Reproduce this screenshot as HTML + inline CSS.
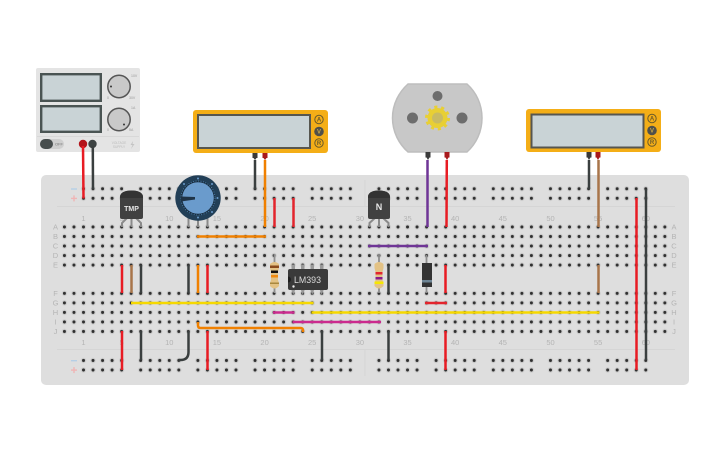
<!DOCTYPE html>
<html><head><meta charset="utf-8"><style>
html,body{margin:0;padding:0;background:#fff}
svg{display:block}
text{font-family:"Liberation Sans",sans-serif}
.n{font-size:7.5px;fill:#b4b4b4;text-anchor:middle}
.w{fill:none;stroke-width:2.5;stroke-linecap:butt;stroke-linejoin:round}
.lead{fill:none;stroke:#8a8a8a;stroke-width:2}
</style></head><body>
<svg width="725" height="453" viewBox="0 0 725 453" xmlns="http://www.w3.org/2000/svg">
<defs>
<pattern id="h" patternUnits="userSpaceOnUse" x="78.735" y="222.2" width="9.53" height="9.53">
<circle cx="4.765" cy="4.765" r="2.7" fill="#cdcdcd"/><circle cx="4.765" cy="4.765" r="1.5" fill="#2f2f2f"/>
</pattern>
<pattern id="h2" patternUnits="userSpaceOnUse" x="78.735" y="288.6" width="9.53" height="9.53">
<circle cx="4.765" cy="4.765" r="2.7" fill="#cdcdcd"/><circle cx="4.765" cy="4.765" r="1.5" fill="#2f2f2f"/>
</pattern>
<pattern id="h3" patternUnits="userSpaceOnUse" x="78.735" y="184" width="9.53" height="9.53">
<circle cx="4.765" cy="4.765" r="2.7" fill="#cdcdcd"/><circle cx="4.765" cy="4.765" r="1.5" fill="#2f2f2f"/>
</pattern>
<pattern id="h4" patternUnits="userSpaceOnUse" x="78.735" y="355.7" width="9.53" height="9.53">
<circle cx="4.765" cy="4.765" r="2.7" fill="#cdcdcd"/><circle cx="4.765" cy="4.765" r="1.5" fill="#2f2f2f"/>
</pattern>
</defs>

<!-- board -->
<rect x="41" y="175" width="648" height="210" rx="5" fill="#dedede"/>
<path d="M57 206.5H675M57 349.5H675" stroke="#d2d2d2" stroke-width="0.8"/>
<path d="M365 180V206M365 350V376" stroke="#d2d2d2" stroke-width="0.8"/>

<!-- holes -->
<rect x="59.9" y="222.2" width="610" height="47.65" fill="url(#h)"/>
<rect x="59.9" y="288.6" width="610" height="47.65" fill="url(#h2)"/>
<g fill="url(#h3)">
<rect x="78.735" y="184" width="47.65" height="19.06"/>
<rect x="135.9" y="184" width="47.65" height="19.06"/>
<rect x="193.1" y="184" width="47.65" height="19.06"/>
<rect x="250.3" y="184" width="47.65" height="19.06"/>
<rect x="307.5" y="184" width="47.65" height="19.06"/>
<rect x="374.2" y="184" width="47.65" height="19.06"/>
<rect x="431.4" y="184" width="47.65" height="19.06"/>
<rect x="488.6" y="184" width="47.65" height="19.06"/>
<rect x="545.7" y="184" width="47.65" height="19.06"/>
<rect x="602.9" y="184" width="47.65" height="19.06"/>
</g>
<g fill="url(#h4)">
<rect x="78.735" y="355.7" width="47.65" height="19.06"/>
<rect x="135.9" y="355.7" width="47.65" height="19.06"/>
<rect x="193.1" y="355.7" width="47.65" height="19.06"/>
<rect x="250.3" y="355.7" width="47.65" height="19.06"/>
<rect x="307.5" y="355.7" width="47.65" height="19.06"/>
<rect x="374.2" y="355.7" width="47.65" height="19.06"/>
<rect x="431.4" y="355.7" width="47.65" height="19.06"/>
<rect x="488.6" y="355.7" width="47.65" height="19.06"/>
<rect x="545.7" y="355.7" width="47.65" height="19.06"/>
<rect x="602.9" y="355.7" width="47.65" height="19.06"/>
</g>

<!-- rail signs -->
<g fill="#b5cfe6"><rect x="71" y="188.3" width="6" height="1.4"/><rect x="71" y="360" width="6" height="1.4"/></g>
<g fill="#f0b5b5"><rect x="71" y="197.7" width="6" height="1.4"/><rect x="73.3" y="195.4" width="1.4" height="6"/><rect x="71" y="369.4" width="6" height="1.4"/><rect x="73.3" y="367.1" width="1.4" height="6"/></g>

<!-- column numbers -->
<g class="n">
<text x="83.5" y="221">1</text><text x="121.6" y="221">5</text><text x="169.3" y="221">10</text><text x="216.9" y="221">15</text><text x="264.6" y="221">20</text><text x="312.2" y="221">25</text><text x="359.9" y="221">30</text><text x="407.5" y="221">35</text><text x="455.2" y="221">40</text><text x="502.8" y="221">45</text><text x="550.5" y="221">50</text><text x="598.1" y="221">55</text><text x="645.8" y="221">60</text>
<text x="83.5" y="345">1</text><text x="121.6" y="345">5</text><text x="169.3" y="345">10</text><text x="216.9" y="345">15</text><text x="264.6" y="345">20</text><text x="312.2" y="345">25</text><text x="359.9" y="345">30</text><text x="407.5" y="345">35</text><text x="455.2" y="345">40</text><text x="502.8" y="345">45</text><text x="550.5" y="345">50</text><text x="598.1" y="345">55</text><text x="645.8" y="345">60</text>
<text x="55.5" y="229.5">A</text><text x="55.5" y="239">B</text><text x="55.5" y="248.5">C</text><text x="55.5" y="258">D</text><text x="55.5" y="267.5">E</text>
<text x="55.5" y="296">F</text><text x="55.5" y="305.5">G</text><text x="55.5" y="315">H</text><text x="55.5" y="324.5">I</text><text x="55.5" y="334">J</text>
<text x="674" y="229.5">A</text><text x="674" y="239">B</text><text x="674" y="248.5">C</text><text x="674" y="258">D</text><text x="674" y="267.5">E</text>
<text x="674" y="296">F</text><text x="674" y="305.5">G</text><text x="674" y="315">H</text><text x="674" y="324.5">I</text><text x="674" y="334">J</text>
</g>

<!-- power supply -->
<rect x="36" y="68" width="104" height="84" rx="2" fill="#e4e4e4"/>
<path d="M37 136.5H139" stroke="#d4d4d4" stroke-width="0.8"/>
<rect x="41.2" y="74.2" width="59.6" height="26.6" fill="#c9d3d6" stroke="#4a5453" stroke-width="2.4"/>
<rect x="41.2" y="106.2" width="59.6" height="25.6" fill="#c9d3d6" stroke="#4a5453" stroke-width="2.4"/>
<circle cx="119" cy="86.5" r="11.2" fill="#c9c9c9" stroke="#555" stroke-width="1.5"/>
<circle cx="111" cy="86.5" r="1" fill="#333"/>
<circle cx="119" cy="119.5" r="11.2" fill="#c9c9c9" stroke="#555" stroke-width="1.5"/>
<circle cx="124" cy="124.5" r="1" fill="#333"/>
<text x="131" y="77" font-size="3.5" fill="#999">10V</text>
<text x="131" y="109" font-size="3.5" fill="#999">1A</text>
<text x="107" y="99" font-size="3.5" fill="#999">0</text>
<text x="129" y="99" font-size="3.5" fill="#999">30V</text>
<text x="107" y="131" font-size="3.5" fill="#999">0</text>
<text x="129" y="131" font-size="3.5" fill="#999">5A</text>
<rect x="40" y="139" width="24" height="10" rx="5" fill="#cfcfcf"/>
<rect x="40" y="139" width="13" height="10" rx="5" fill="#474d4d"/>
<text x="55" y="145.5" font-size="4" fill="#777">OFF</text>
<text x="119" y="144" font-size="3.2" fill="#bbb" text-anchor="middle">VOLTAGE</text>
<text x="119" y="148" font-size="3.2" fill="#bbb" text-anchor="middle">SUPPLY</text>
<path d="M133 141l-2.5 4h2l-1.5 4 3.5-5h-2z" fill="#c4c4c4"/>
<circle cx="83" cy="144" r="4.2" fill="#b3151b"/>
<circle cx="92.5" cy="144" r="4.2" fill="#3d4343"/>

<!-- multimeter 1 -->
<rect x="193" y="110" width="135" height="43" rx="3" fill="#f4ae17"/>
<rect x="198" y="115" width="112" height="33" fill="#c9d3d6" stroke="#565650" stroke-width="2"/>
<g font-size="6" text-anchor="middle" font-weight="bold">
<circle cx="319" cy="119.5" r="4.2" fill="none" stroke="#6a5a2a" stroke-width="1"/><text x="319" y="121.7" fill="#6a5a2a">A</text>
<circle cx="319" cy="131.5" r="4.8" fill="#50504a"/><text x="319" y="133.7" fill="#c9a84a">V</text>
<circle cx="319" cy="143" r="4.2" fill="none" stroke="#6a5a2a" stroke-width="1"/><text x="319" y="145.2" fill="#6a5a2a">R</text>
</g>

<!-- multimeter 2 -->
<rect x="526" y="109" width="135" height="43" rx="3" fill="#f4ae17"/>
<rect x="531.5" y="114.5" width="112" height="33" fill="#c9d3d6" stroke="#565650" stroke-width="2"/>
<g font-size="6" text-anchor="middle" font-weight="bold">
<circle cx="652" cy="118.5" r="4.2" fill="none" stroke="#6a5a2a" stroke-width="1"/><text x="652" y="120.7" fill="#6a5a2a">A</text>
<circle cx="652" cy="130.5" r="4.8" fill="#50504a"/><text x="652" y="132.7" fill="#c9a84a">V</text>
<circle cx="652" cy="142" r="4.2" fill="none" stroke="#6a5a2a" stroke-width="1"/><text x="652" y="144.2" fill="#6a5a2a">R</text>
</g>

<!-- motor -->
<path d="M408 84H467C476 92 482 104 482 118C482 132 476 144 467 152H408C399 144 392.500 132 392.500 118C392.500 104 399 92 408 84Z" fill="#c8c8c8" stroke="#bdbdbd" stroke-width="1.5"/>
<circle cx="437.500" cy="96" r="5" fill="#6d6d6d"/>
<circle cx="412.500" cy="118" r="5.500" fill="#6d6d6d"/>
<circle cx="462" cy="118" r="5.500" fill="#6d6d6d"/>
<circle cx="437.500" cy="118" r="11" fill="none" stroke="#e8cf34" stroke-width="3" stroke-dasharray="3.100 3.800"/>
<circle cx="437.500" cy="118" r="10" fill="#e8cf34"/>
<circle cx="437.500" cy="118" r="5.500" fill="#c9bb62"/>

<!-- probes -->
<g>
<rect x="252.500" y="153" width="5" height="5" fill="#3a3a3a"/><path d="M253.500 158L255 160L256.500 158Z" fill="#3a3a3a"/>
<rect x="262.500" y="153" width="5" height="5" fill="#a8191c"/><path d="M263.500 158L265 160L266.500 158Z" fill="#a8191c"/>
<rect x="425.500" y="152" width="5" height="5.500" fill="#3a3a3a"/><path d="M426.500 157.500L428 160L429.500 157.500Z" fill="#3a3a3a"/>
<rect x="444.500" y="152" width="5" height="5.500" fill="#a8191c"/><path d="M445.500 157.500L447 160L448.500 157.500Z" fill="#a8191c"/>
<rect x="586.500" y="152" width="5" height="5.500" fill="#3a3a3a"/><path d="M587.500 157.500L589 160L590.500 157.500Z" fill="#3a3a3a"/>
<rect x="595.500" y="152" width="5" height="5.500" fill="#a8191c"/><path d="M596.500 157.500L598 160L599.500 157.500Z" fill="#a8191c"/>
</g>

<!-- wires -->
<g class="w">
<path stroke="#e81c24" d="M83 146L83.500 198.500"/>
<path stroke="#3a3f3f" d="M92.800 146L93 189"/>
<path stroke="#3a3f3f" d="M255 160V189"/>
<path stroke="#f08000" d="M265 160V227"/>
<path stroke="#f08000" d="M197 236.500H266"/>
<path stroke="#e3252d" d="M274.500 198V227M293.500 198V227"/>
<path stroke="#6f3596" d="M427.500 160V227"/>
<path stroke="#e81c24" d="M446.800 160L446.500 227"/>
<path stroke="#6f3596" d="M368 246H428"/>
<path stroke="#3a3f3f" d="M589 160V189"/>
<path stroke="#a8754a" d="M598.500 160V227"/>
<path stroke="#e81c24" d="M636.500 198V370"/>
<path stroke="#3a3f3f" d="M646 189V360"/>
<path stroke="#e81c24" d="M122 265V293M207.500 265V293M445.500 265V293"/>
<path stroke="#a8754a" d="M131.500 265V293M598.500 265V293"/>
<path stroke="#3a3f3f" d="M141 265V293M188.500 265V293M388.500 265V293"/>
<path stroke="#f08000" d="M198 265V293"/>
<path stroke="#f5d800" d="M131 303H313.500M311.500 312.500H599.500"/>
<path stroke="#e3252d" d="M425 303H447"/>
<path stroke="#cb2a8e" d="M273 312.500H294.500M292.500 322H381"/>
<path stroke="#f08000" d="M198 322V325.500Q198 328 200.500 328H300.500Q303 328 303 330.500V332"/>
<path stroke="#e81c24" d="M122 331V370M207.500 331V370M445.500 331V370"/>
<path stroke="#3a3f3f" d="M141 331V360M322 331V360M388.500 331V360"/>
<path stroke="#3a3f3f" d="M188.500 331V352Q188.500 360 180.500 360H178.500"/>
</g>

<!-- TMP sensor -->
<path class="lead" d="M127 218L122 223V227M131.500 218V227M136 218L141 223V227"/>
<path d="M120 217V197C120 192.500 125 190.500 131.500 190.500C138 190.500 143 192.500 143 197V217Q143 219 141 219H122Q120 219 120 217Z" fill="#414141"/>
<path d="M120 197C120 192.500 125 190.500 131.500 190.500C138 190.500 143 192.500 143 197V198H120Z" fill="#333"/>
<text x="131.500" y="211" font-size="7" font-weight="bold" fill="#e6e6e6" text-anchor="middle">TMP</text>

<!-- N transistor -->
<path class="lead" d="M375 218L369.500 223V227M379 218V227M383 218L388.500 223V227"/>
<path d="M368 217V197C368 192.500 372.500 190.500 379 190.500C385.500 190.500 390 192.500 390 197V217Q390 219 388 219H370Q368 219 368 217Z" fill="#414141"/>
<path d="M368 197C368 192.500 372.500 190.500 379 190.500C385.500 190.500 390 192.500 390 197V198H368Z" fill="#333"/>
<text x="379" y="210" font-size="9" font-weight="bold" fill="#e6e6e6" text-anchor="middle">N</text>

<!-- potentiometer -->
<path class="lead" d="M188.500 215V227M198 215V227M207.500 215V227"/>
<circle cx="198" cy="198" r="22.700" fill="#223f57"/>
<circle cx="198" cy="198" r="17" fill="#16293a" stroke="#4d7ea8" stroke-width="1" stroke-dasharray="1 1.500"/>
<circle cx="198" cy="198" r="15.800" fill="#6a9bcc"/>
<path d="M181 196.500L195 197V199.500L181 201.500Z" fill="#1f3448"/>
<g fill="#6a9bcc"><circle cx="198" cy="178.500" r="1"/><circle cx="212" cy="184" r="1"/><circle cx="217.500" cy="198" r="1"/><circle cx="212" cy="212" r="1"/><circle cx="184" cy="184" r="1"/><circle cx="198" cy="217.500" r="1"/></g>

<!-- resistors -->
<g>
<path d="M274.500 254V293" stroke="#8f8f8f" stroke-width="1.800"/>
<path d="M270 264Q274.500 260 279 264V268L278 272V280L279 283V286Q274.500 291 270 286V283L271 280V272L270 268Z" fill="#e3c285"/>
<rect x="270" y="265.500" width="9" height="2.500" fill="#8a4a1c"/>
<rect x="271" y="270.500" width="7" height="2.500" fill="#111"/>
<rect x="271" y="275" width="7" height="2.500" fill="#f08a10"/>
<rect x="270" y="282.500" width="9" height="1.500" fill="#a88840"/>
<path d="M379 254V293" stroke="#8f8f8f" stroke-width="1.800"/>
<path d="M374.500 264Q379 260 383.500 264V268L382.500 272V280L383.500 283V286Q379 291 374.500 286V283L375.500 280V272L374.500 268Z" fill="#e3c285"/>
<rect x="375.500" y="272" width="7" height="2.500" fill="#e3252d"/>
<rect x="375.500" y="277" width="7" height="2.500" fill="#8a1a8a"/>
<rect x="374.500" y="281.500" width="9" height="2.500" fill="#f5e800"/>
</g>

<!-- LM393 -->
<g fill="#999">
<rect x="291.500" y="264.500" width="3.500" height="6"/><rect x="301" y="264.500" width="3.500" height="6"/><rect x="310.500" y="264.500" width="3.500" height="6"/><rect x="320" y="264.500" width="3.500" height="6"/>
<path d="M291 289H295.500L293.200 295Z"/><path d="M300.500 289H305L302.700 295Z"/><path d="M310 289H314.500L312.200 295Z"/><path d="M319.500 289H324L321.700 295Z"/>
</g>
<rect x="288" y="269" width="40" height="21" rx="2" fill="#3a3a3a"/>
<path d="M288 276.500A3 3 0 0 1 288 282.500Z" fill="#1f1f1f"/>
<circle cx="293.500" cy="286.500" r="1.200" fill="#eee"/>
<text x="294" y="283" font-size="9.500" textLength="27" lengthAdjust="spacingAndGlyphs" fill="#dcdcdc">LM393</text>

<!-- diode -->
<path d="M426.500 255V293" stroke="#8f8f8f" stroke-width="1.800"/>
<rect x="422" y="263" width="10" height="24" fill="#333"/>
<rect x="422" y="280" width="10" height="2.500" fill="#6d8494"/>
</svg>
</body></html>
